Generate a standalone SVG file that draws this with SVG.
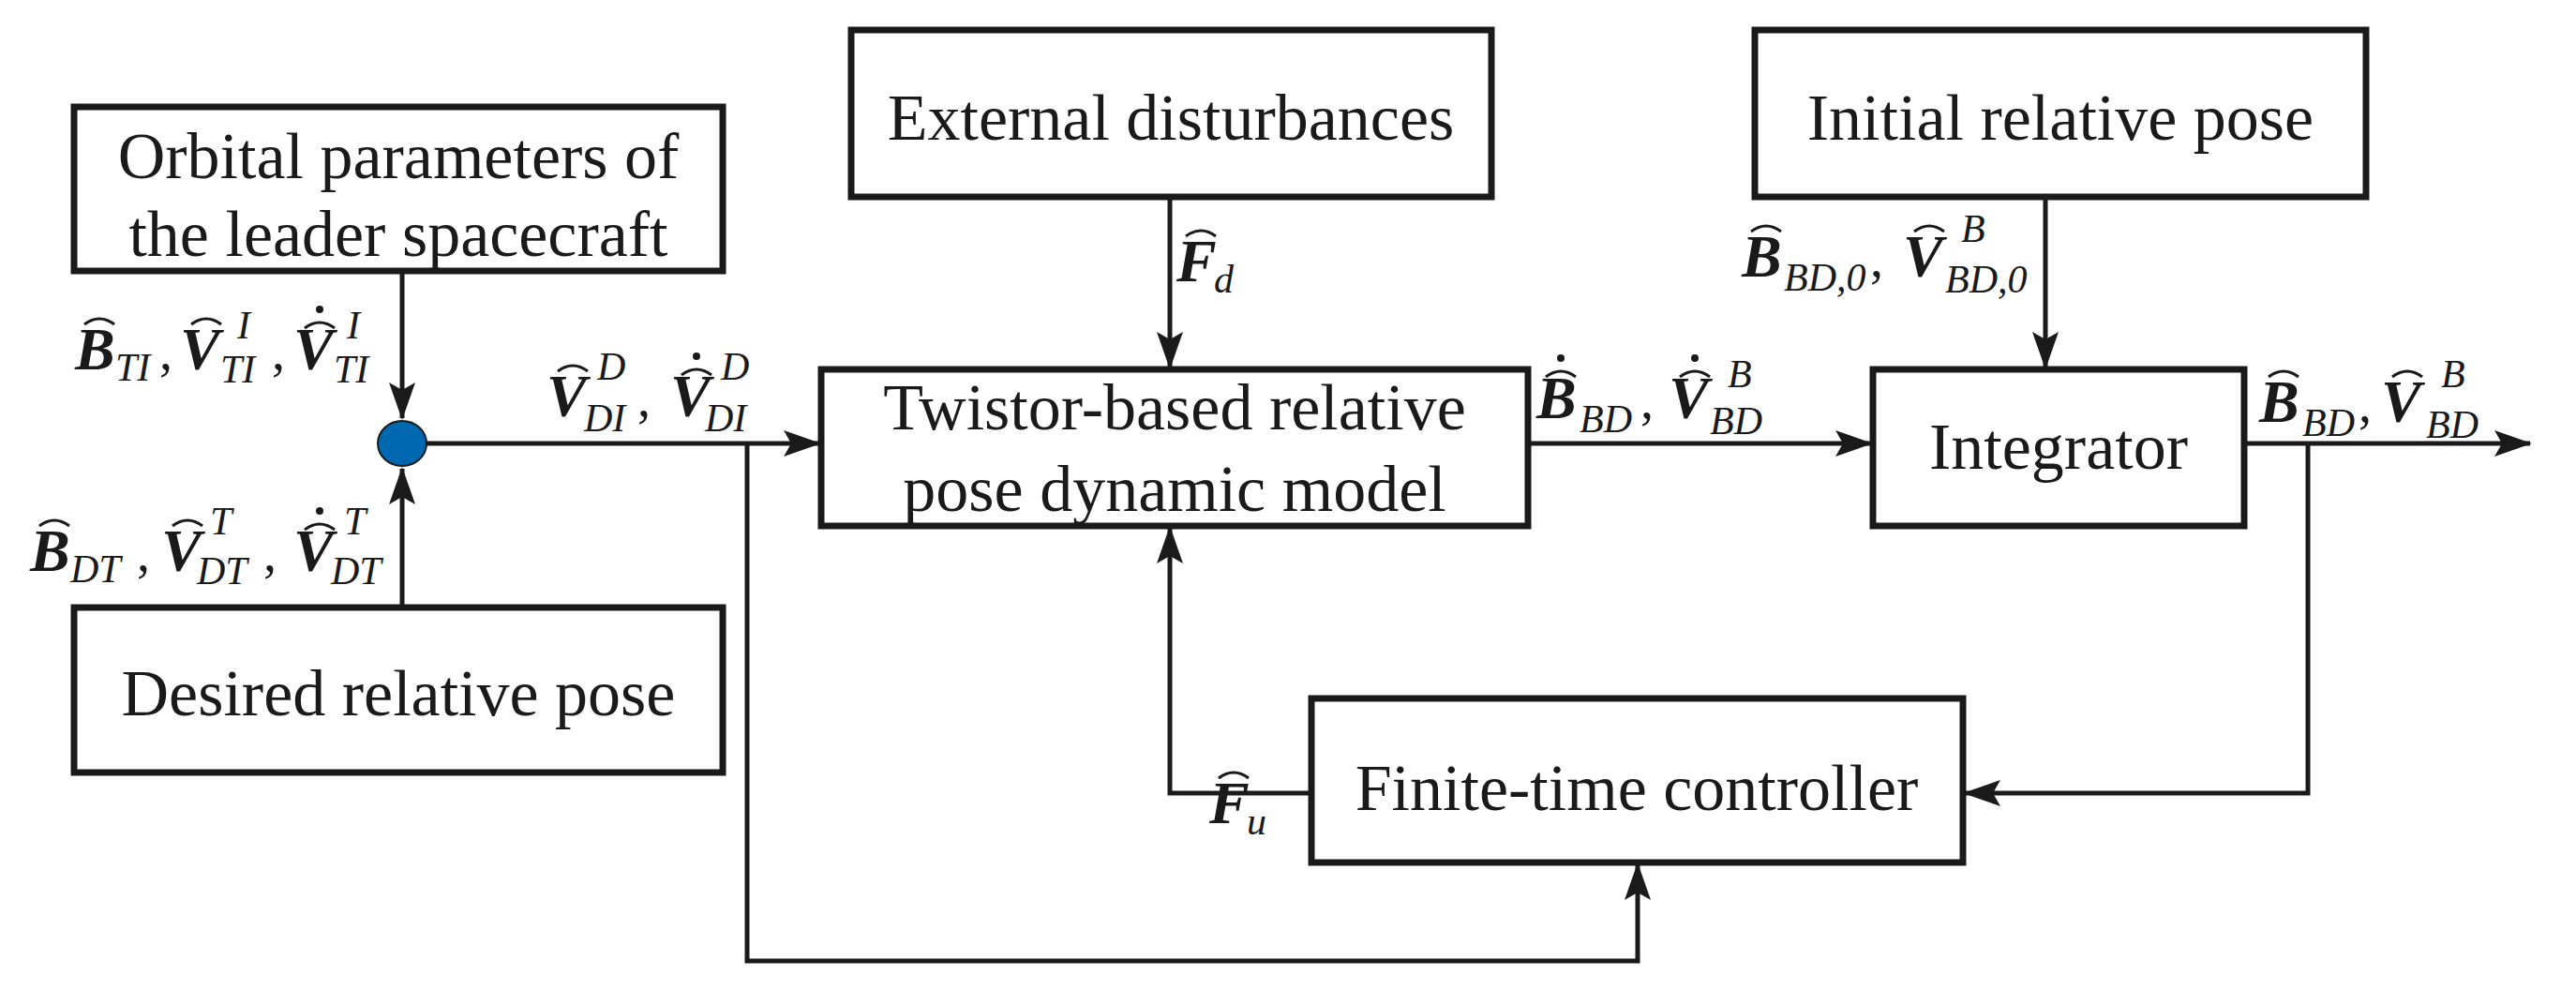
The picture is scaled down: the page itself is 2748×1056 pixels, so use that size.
<svg xmlns="http://www.w3.org/2000/svg" width="2748" height="1056" viewBox="0 0 2748 1056">
<style>
.box{fill:#fff;stroke:#1a1a1a;stroke-width:7}
.t{font-family:"Liberation Serif","DejaVu Serif","Times New Roman",serif;font-size:70px;fill:#1a1a1a;text-anchor:middle}
.ln{fill:none;stroke:#1a1a1a;stroke-width:5}
.m{font-family:"Liberation Serif","DejaVu Serif",serif;font-size:64px;font-weight:bold;font-style:italic;fill:#1a1a1a}
.s{font-family:"Liberation Serif","DejaVu Serif",serif;font-size:42px;font-style:italic;fill:#1a1a1a}
.c{font-family:"Liberation Serif","DejaVu Serif",serif;font-size:56px;fill:#1a1a1a}
.h{fill:none;stroke:#1a1a1a;stroke-width:3}
</style>
<defs>
<marker id="a" markerUnits="userSpaceOnUse" markerWidth="40" markerHeight="28" refX="38" refY="14" orient="auto">
<path d="M0,0 L40,14 L0,28 L8,14 z" fill="#1a1a1a"/>
</marker>
</defs>
<rect width="2748" height="1056" fill="#fff"/>
<g id="connectors">
<line class="ln" x1="429" y1="289" x2="429" y2="446" marker-end="url(#a)"/>
<line class="ln" x1="429" y1="648" x2="429" y2="500" marker-end="url(#a)"/>
<line class="ln" x1="454" y1="473" x2="874" y2="473" marker-end="url(#a)"/>
<line class="ln" x1="1248" y1="210" x2="1248" y2="392" marker-end="url(#a)"/>
<line class="ln" x1="1630" y1="473" x2="1996" y2="473" marker-end="url(#a)"/>
<line class="ln" x1="2182" y1="210" x2="2182" y2="392" marker-end="url(#a)"/>
<line class="ln" x1="2394" y1="473" x2="2699" y2="473" marker-end="url(#a)"/>
<polyline class="ln" points="2462,473 2462,846 2096,846" marker-end="url(#a)"/>
<polyline class="ln" points="1399,846 1248,846 1248,563" marker-end="url(#a)"/>
<polyline class="ln" points="797,473 797,1025 1747,1025 1747,922" marker-end="url(#a)"/>
</g>
<g id="n-orbital"><rect class="box" x="79" y="114" width="692" height="175"/>
<text class="t" x="425" y="190">Orbital parameters of</text><text class="t" x="425" y="273">the leader spacecraft</text></g>
<g id="n-desired"><rect class="box" x="79" y="648" width="692" height="176"/><text class="t" x="425" y="763">Desired relative pose</text></g>
<g id="n-junction"><ellipse cx="429" cy="473" rx="26" ry="24" fill="#0068b0" stroke="#1a1a1a" stroke-width="2"/></g>
<g id="n-external"><rect class="box" x="908" y="32" width="683" height="178"/><text class="t" x="1249" y="149">External disturbances</text></g>
<g id="n-twistor"><rect class="box" x="876" y="394" width="754" height="167"/>
<text class="t" x="1253" y="458">Twistor-based relative</text><text class="t" x="1253" y="545">pose dynamic model</text></g>
<g id="n-initial"><rect class="box" x="1872" y="32" width="652" height="178"/><text class="t" x="2198" y="149">Initial relative pose</text></g>
<g id="n-integrator"><rect class="box" x="1998" y="394" width="396" height="167"/><text class="t" x="2196" y="500">Integrator</text></g>
<g id="n-controller"><rect class="box" x="1399" y="745" width="695" height="175"/><text class="t" x="1746" y="864">Finite-time controller</text></g>
<g id="labels">
<text class="m" x="80" y="394">B</text><path class="h" d="M90,346 Q106,334 122,346"/><text class="s" x="123" y="406">TI</text>
<text class="c" x="170" y="394">,</text>
<text class="m" x="192" y="394">V</text><path class="h" d="M204,346 Q220,334 236,346"/><text class="s" x="253" y="361">I</text><text class="s" x="235" y="408">TI</text>
<text class="c" x="290" y="394">,</text>
<text class="m" x="313" y="394">V</text><path class="h" d="M325,350 Q341,338 357,350"/><circle cx="341" cy="330" r="4" fill="#1a1a1a"/><text class="s" x="370" y="361">I</text><text class="s" x="356" y="408">TI</text>
<text class="m" x="32" y="609">B</text><path class="h" d="M42,561 Q58,549 74,561"/><text class="s" x="75" y="621">DT</text>
<text class="c" x="146" y="609">,</text>
<text class="m" x="172" y="609">V</text><path class="h" d="M184,561 Q200,549 216,561"/><text class="s" x="224" y="570">T</text><text class="s" x="210" y="623">DT</text>
<text class="c" x="281" y="609">,</text>
<text class="m" x="313" y="609">V</text><path class="h" d="M325,565 Q341,553 357,565"/><circle cx="341" cy="545" r="4" fill="#1a1a1a"/><text class="s" x="367" y="570">T</text><text class="s" x="353" y="623">DT</text>
<text class="m" x="583" y="444">V</text><path class="h" d="M595,396 Q611,384 627,396"/><text class="s" x="637" y="405">D</text><text class="s" x="623" y="460">DI</text>
<text class="c" x="680" y="444">,</text>
<text class="m" x="715" y="444">V</text><path class="h" d="M727,400 Q743,388 759,400"/><circle cx="743" cy="380" r="4" fill="#1a1a1a"/><text class="s" x="769" y="405">D</text><text class="s" x="752" y="460">DI</text>
<text class="m" x="1255" y="300">F</text><path class="h" d="M1265,252 Q1281,240 1297,252"/><text class="s" x="1295" y="312">d</text>
<text class="m" x="1290" y="878">F</text><path class="h" d="M1300,830 Q1316,818 1332,830"/><text class="s" x="1330" y="890">u</text>
<text class="m" x="1858" y="295">B</text><path class="h" d="M1868,247 Q1884,235 1900,247"/><text class="s" x="1903" y="310">BD,0</text>
<text class="c" x="1995" y="295">,</text>
<text class="m" x="2030" y="295">V</text><path class="h" d="M2042,247 Q2058,235 2074,247"/><text class="s" x="2092" y="258">B</text><text class="s" x="2075" y="312">BD,0</text>
<text class="m" x="1639" y="446">B</text><path class="h" d="M1649,402 Q1665,390 1681,402"/><circle cx="1665" cy="382" r="4" fill="#1a1a1a"/><text class="s" x="1685" y="461">BD</text>
<text class="c" x="1750" y="446">,</text>
<text class="m" x="1780" y="446">V</text><path class="h" d="M1792,402 Q1808,390 1824,402"/><circle cx="1808" cy="382" r="4" fill="#1a1a1a"/><text class="s" x="1843" y="413">B</text><text class="s" x="1824" y="463">BD</text>
<text class="m" x="2410" y="450">B</text><path class="h" d="M2420,402 Q2436,390 2452,402"/><text class="s" x="2456" y="465">BD</text>
<text class="c" x="2516" y="450">,</text>
<text class="m" x="2540" y="450">V</text><path class="h" d="M2552,402 Q2568,390 2584,402"/><text class="s" x="2604" y="413">B</text><text class="s" x="2588" y="467">BD</text>
</g>
</svg>
